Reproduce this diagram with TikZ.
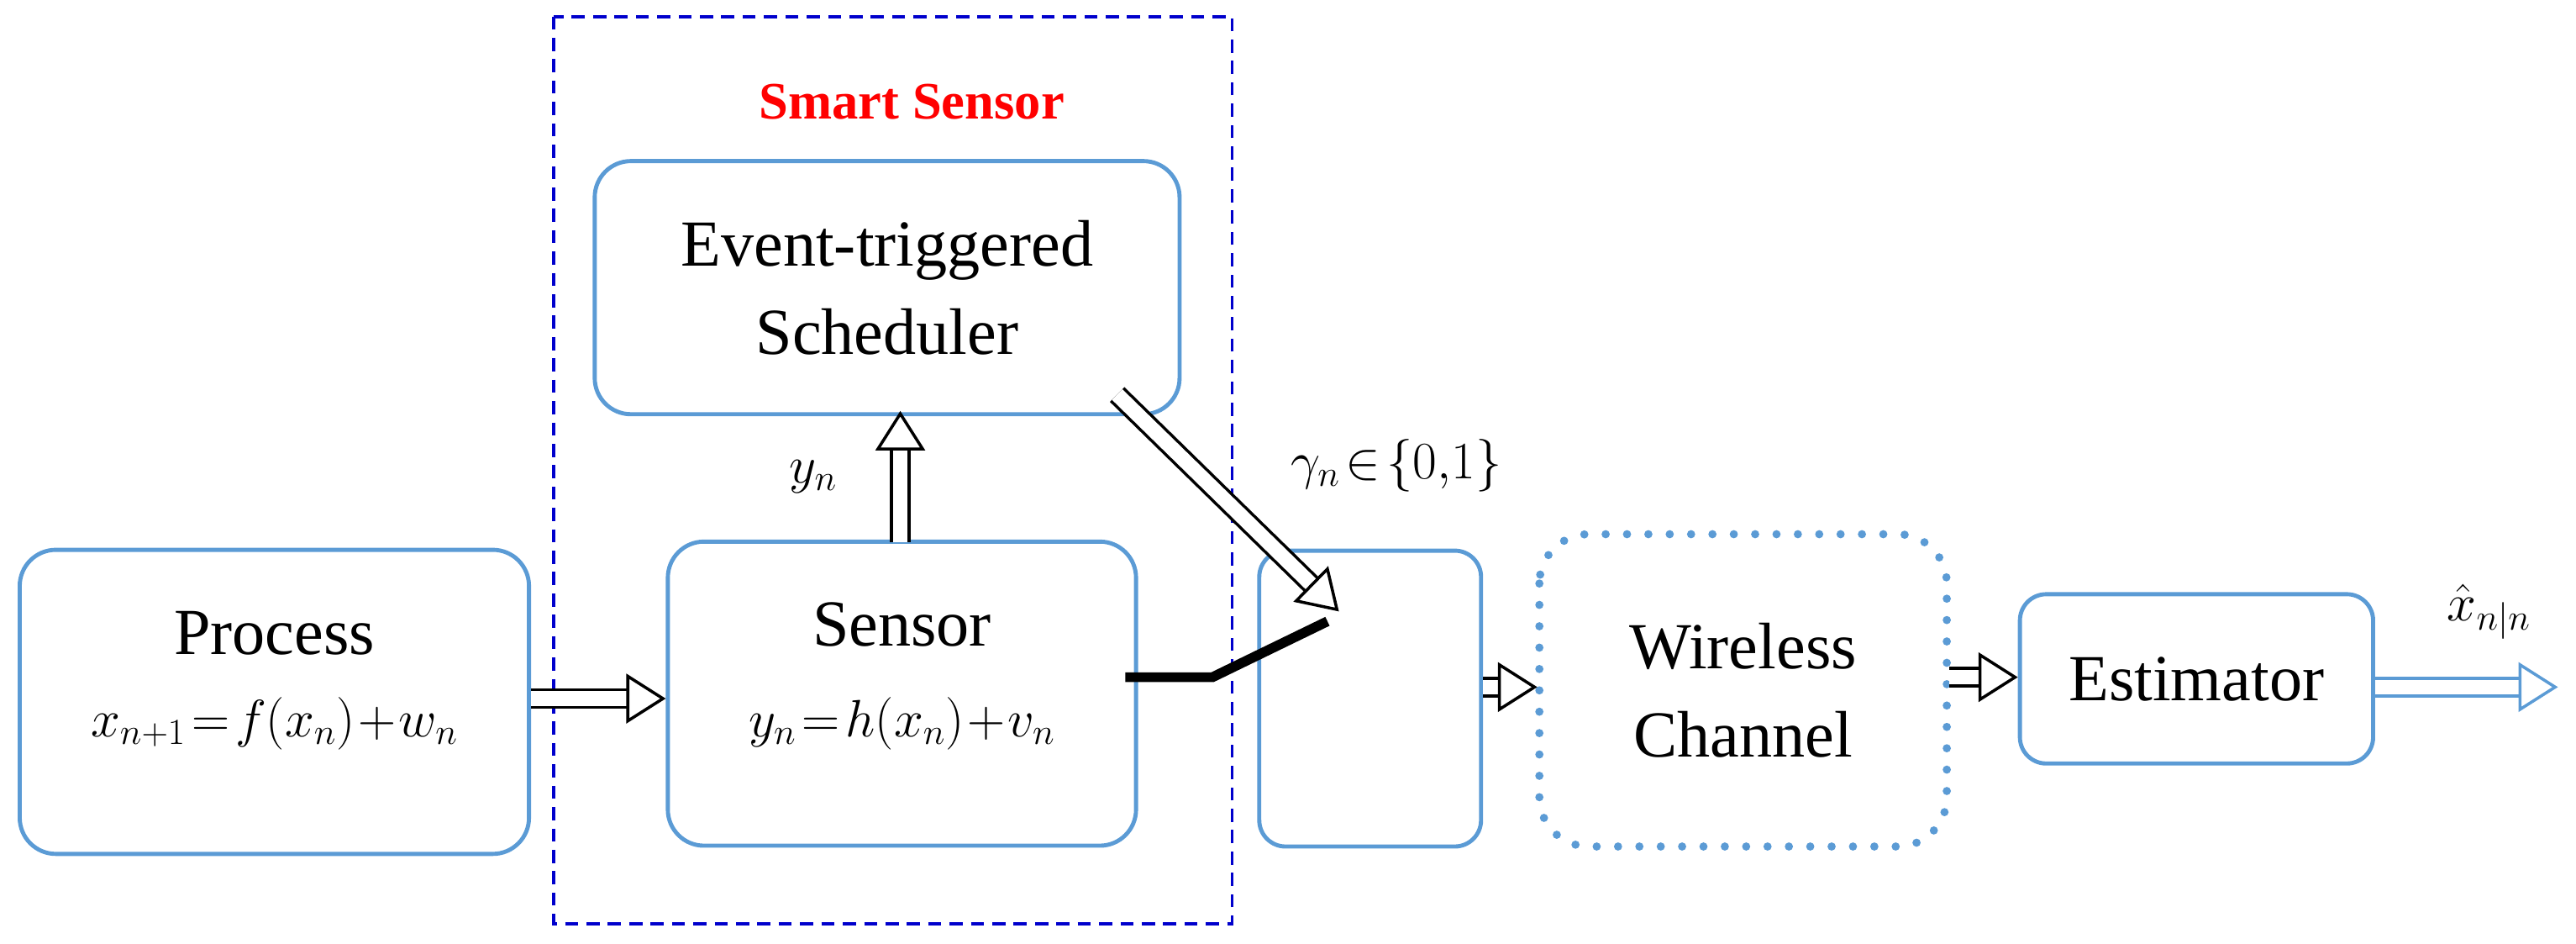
\documentclass[tikz,border=0pt]{standalone}
\usepackage{fix-cm}
\usepackage{fontspec}
\setmainfont{Liberation Serif}
\usetikzlibrary{arrows.meta,positioning}
\definecolor{boxblue}{RGB}{91,155,213}
\tikzset{
  blk/.style={draw=boxblue,line width=2.5pt,rounded corners=22pt,align=center,font=\fontsize{40}{48}\selectfont},
  harrow/.style={draw=black,double=white,line width=1.8pt,double distance=9pt,-{Triangle[open,length=24pt,width=30pt,line width=1.8pt]}}
}
\begin{document}
\begin{tikzpicture}[x=1pt,y=1pt,yscale=-1]
\useasboundingbox (0,0) rectangle (1568,574);

% smart sensor frame
\draw[blue!80!black,line width=2pt,dash pattern=on 8pt off 5pt] (337,10) rectangle (750,562);
\node[text=red,font=\bfseries\fontsize{32}{38}\selectfont] (title) at (555,62) {Smart Sensor};

% blocks
\node[blk,minimum width=356pt,minimum height=154pt] (sched) at (540,175) {Event-triggered\\[6pt]Scheduler};
\node[blk,minimum width=310pt,minimum height=185pt] (proc) at (167,427) {};
\node[font=\fontsize{40}{48}\selectfont] at (167,385) {Process};
\node[font=\fontsize{32}{38}\selectfont] at (167,440) {$x_{n+1}\!=\!f\!\left(x_n\right)\!+\!w_n$};
\node[blk,minimum width=285pt,minimum height=185pt] (sens) at (549,422) {};
\node[font=\fontsize{40}{48}\selectfont] at (549,380) {Sensor};
\node[font=\fontsize{32}{38}\selectfont] at (549,440) {$y_n\!=\!h\!\left(x_n\right)\!+\!v_n$};
\node[blk,rounded corners=16pt,minimum width=135pt,minimum height=180pt] (gate) at (834,425) {};
\node[blk,draw=none,minimum width=248pt,minimum height=190pt] (chan) at (1061,420) {Wireless\\[6pt]Channel};
\draw[boxblue,line width=5pt,line cap=round,dash pattern=on 0pt off 13pt,rounded corners=30pt] (937,325) rectangle (1185,515);
\node[blk,rounded corners=16pt,minimum width=215pt,minimum height=103pt] (est) at (1337,413) {Estimator};

% switch
\coordinate (swA) at (685,412);
\coordinate (swB) at (738,412);
\coordinate (swC) at (808,378);
\draw[line width=6pt] (swA) -- (swB) -- (swC);

% arrows
\draw[harrow] (proc.east |- 0,425) -- (sens.west |- 0,425);
\draw[harrow] (548,330) -- (548,250);
\coordinate (schedOut) at (680,240);
\draw[harrow] (schedOut) -- (815,372);
\draw[harrow] (gate.east |- 0,418) -- (chan.west |- 0,418);
\draw[harrow] (chan.east |- 0,412) -- (est.west |- 0,412);
\draw[harrow,draw=boxblue,-{Triangle[open,length=24pt,width=30pt,line width=1.8pt,color=boxblue]}] (est.east |- 0,418) -- (1557,418);

% labels
\node[font=\fontsize{32}{38}\selectfont] (ylab) at (495,290) {$y_n$};
\node[font=\fontsize{32}{38}\selectfont] (glab) at (850,283) {$\gamma_n\!\in\!\left\{0{,}1\right\}$};
\node[font=\fontsize{32}{38}\selectfont] (xlab) at (1515,372) {$\hat{x}_{n|n}$};
\end{tikzpicture}
\end{document}
